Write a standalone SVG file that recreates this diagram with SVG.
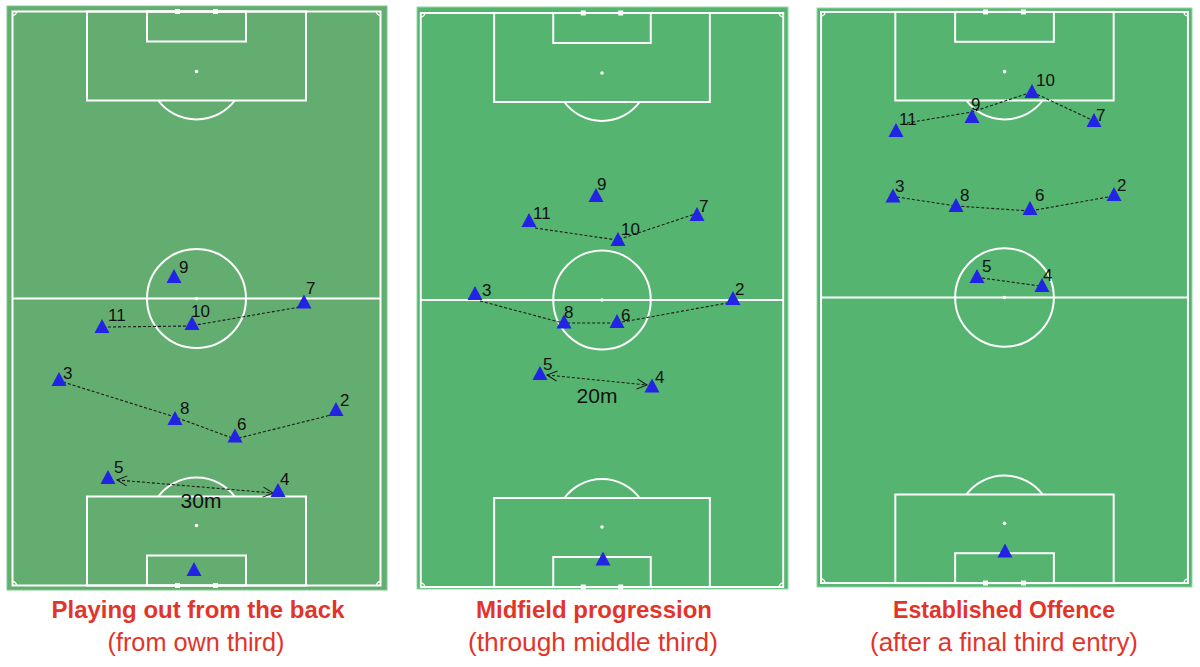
<svg xmlns="http://www.w3.org/2000/svg" xmlns:xlink="http://www.w3.org/1999/xlink" width="1200" height="667" viewBox="0 0 1200 667">
<style>
.ln{fill:none;stroke:#ffffff;stroke-width:2}
.sp{fill:#ffffff}
.p1{fill:#64ad70;stroke:#7fc98d;stroke-width:1}
.p2{fill:#54b470;stroke:#8fd9a6;stroke-width:1}
.pl{fill:#2323e6}
.num{font-family:"Liberation Sans",Arial,sans-serif;font-size:17px;fill:#111111}
.dist{font-family:"Liberation Sans",Arial,sans-serif;font-size:21px;fill:#111111}
.dash{fill:none;stroke:#1a1a1a;stroke-width:1.1;stroke-dasharray:3 2}
.t1{font-family:"Liberation Sans",Arial,sans-serif;font-size:24px;font-weight:bold;fill:#e3342a;text-anchor:middle}
.t2{font-family:"Liberation Sans",Arial,sans-serif;font-size:25px;fill:#e3342a;text-anchor:middle}
</style>
<defs>
<marker id="ah" viewBox="-11 -6 12 12" markerWidth="12" markerHeight="12" refX="0" refY="0" orient="auto-start-reverse" markerUnits="userSpaceOnUse">
<path d="M-10,-5 L0,0 L-10,5" fill="none" stroke="#1a1a1a" stroke-width="1"/>
</marker>
<path id="tri" d="M0,-7 L7.5,7 L-7.5,7 Z"/>
<g id="pitchLines">
<rect class="ln" x="-184" y="-287" width="368" height="574"/>
<line class="ln" x1="-184" y1="0" x2="184" y2="0"/>
<circle class="ln" cx="0" cy="0" r="49.5"/>
<circle class="sp" cx="0" cy="0" r="1.8"/>
<rect class="ln" x="-109.5" y="-287" width="219" height="89"/>
<rect class="ln" x="-49.5" y="-287" width="99" height="30"/>
<circle class="sp" cx="0" cy="-227" r="1.8"/>
<path class="ln" d="M-38.25,-198 A48,48 0 0,0 38.25,-198"/>
<rect class="ln" x="-109.5" y="198" width="219" height="89"/>
<rect class="ln" x="-49.5" y="257" width="99" height="30"/>
<circle class="sp" cx="0" cy="227" r="1.8"/>
<path class="ln" d="M-38.25,198 A48,48 0 0,1 38.25,198"/>
<rect class="sp" x="-21.5" y="-289.5" width="5" height="5"/>
<rect class="sp" x="16.5" y="-289.5" width="5" height="5"/>
<rect class="sp" x="-21.5" y="284.5" width="5" height="5"/>
<rect class="sp" x="16.5" y="284.5" width="5" height="5"/>
<path class="ln" style="stroke-width:1.5" d="M-184,-283 A4,4 0 0,0 -180,-287 M180,-287 A4,4 0 0,0 184,-283 M-180,287 A4,4 0 0,0 -184,283 M184,283 A4,4 0 0,0 180,287"/>
</g>
</defs>

<g id="pitch-1">
<rect class="p1" x="7" y="6" width="380" height="584"/>
<use xlink:href="#pitchLines" href="#pitchLines" transform="translate(196.5,298.5)"/>
</g>
<g id="pitch-2">
<rect class="p2" x="417" y="7" width="371" height="582"/>
<use xlink:href="#pitchLines" href="#pitchLines" transform="translate(602,300) scale(0.985,1)"/>
</g>
<g id="pitch-3">
<rect class="p2" x="817" y="8" width="375" height="579"/>
<use xlink:href="#pitchLines" href="#pitchLines" transform="translate(1004.5,297.5) scale(0.997,0.995)"/>
</g>

<g id="connectors">
<polyline class="dash" points="108,327 190,326 300,307"/>
<polyline class="dash" points="63,382 175,417 235,439 335,414"/>
<line class="dash" x1="117" y1="480" x2="273" y2="493" marker-start="url(#ah)" marker-end="url(#ah)"/>
<polyline class="dash" points="535,228 617,240 695,214"/>
<polyline class="dash" points="480,301 563,323 617,323 727,303"/>
<line class="dash" x1="547" y1="375" x2="647" y2="385" marker-start="url(#ah)" marker-end="url(#ah)"/>
<polyline class="dash" points="907,123 972,112 1032,92 1090,119"/>
<polyline class="dash" points="897,197 956,206 1030,211 1108,197"/>
<line class="dash" x1="982" y1="278" x2="1040" y2="286"/>
</g>

<g id="p1-9"><use class="pl" href="#tri" xlink:href="#tri" x="174" y="276"/><text class="num" x="179" y="273">9</text></g>
<g id="p1-7"><use class="pl" href="#tri" xlink:href="#tri" x="304" y="301.5"/><text class="num" x="306" y="294">7</text></g>
<g id="p1-11"><use class="pl" href="#tri" xlink:href="#tri" x="102" y="326"/><text class="num" x="108" y="321">11</text></g>
<g id="p1-10"><use class="pl" href="#tri" xlink:href="#tri" x="192" y="323"/><text class="num" x="191" y="317">10</text></g>
<g id="p1-3"><use class="pl" href="#tri" xlink:href="#tri" x="59" y="379"/><text class="num" x="63" y="379">3</text></g>
<g id="p1-8"><use class="pl" href="#tri" xlink:href="#tri" x="175" y="418"/><text class="num" x="180" y="414">8</text></g>
<g id="p1-6"><use class="pl" href="#tri" xlink:href="#tri" x="235" y="435.5"/><text class="num" x="237" y="430">6</text></g>
<g id="p1-2"><use class="pl" href="#tri" xlink:href="#tri" x="336" y="409"/><text class="num" x="340" y="406">2</text></g>
<g id="p1-5"><use class="pl" href="#tri" xlink:href="#tri" x="108" y="477"/><text class="num" x="114" y="473">5</text></g>
<g id="p1-4"><use class="pl" href="#tri" xlink:href="#tri" x="278" y="490"/><text class="num" x="280" y="485">4</text></g>
<g id="p1-1"><use class="pl" href="#tri" xlink:href="#tri" x="194" y="569"/></g>
<text class="dist" x="201" y="508" text-anchor="middle">30m</text>

<g id="p2-9"><use class="pl" href="#tri" xlink:href="#tri" x="596" y="195"/><text class="num" x="597" y="190">9</text></g>
<g id="p2-11"><use class="pl" href="#tri" xlink:href="#tri" x="529" y="220"/><text class="num" x="533" y="219">11</text></g>
<g id="p2-10"><use class="pl" href="#tri" xlink:href="#tri" x="618" y="239"/><text class="num" x="621" y="235">10</text></g>
<g id="p2-7"><use class="pl" href="#tri" xlink:href="#tri" x="697" y="214"/><text class="num" x="699" y="212">7</text></g>
<g id="p2-3"><use class="pl" href="#tri" xlink:href="#tri" x="475" y="293"/><text class="num" x="482" y="296">3</text></g>
<g id="p2-8"><use class="pl" href="#tri" xlink:href="#tri" x="564" y="321.5"/><text class="num" x="564" y="318">8</text></g>
<g id="p2-6"><use class="pl" href="#tri" xlink:href="#tri" x="617" y="321"/><text class="num" x="621" y="321">6</text></g>
<g id="p2-2"><use class="pl" href="#tri" xlink:href="#tri" x="733" y="298"/><text class="num" x="735" y="295">2</text></g>
<g id="p2-5"><use class="pl" href="#tri" xlink:href="#tri" x="540" y="373"/><text class="num" x="543" y="370">5</text></g>
<g id="p2-4"><use class="pl" href="#tri" xlink:href="#tri" x="652" y="385.5"/><text class="num" x="655" y="383">4</text></g>
<g id="p2-1"><use class="pl" href="#tri" xlink:href="#tri" x="603" y="558.5"/></g>
<text class="dist" x="597" y="403" text-anchor="middle">20m</text>

<g id="p3-10"><use class="pl" href="#tri" xlink:href="#tri" x="1032" y="91"/><text class="num" x="1036" y="86">10</text></g>
<g id="p3-9"><use class="pl" href="#tri" xlink:href="#tri" x="972" y="116"/><text class="num" x="971" y="110">9</text></g>
<g id="p3-11"><use class="pl" href="#tri" xlink:href="#tri" x="896" y="130"/><text class="num" x="899" y="125">11</text></g>
<g id="p3-7"><use class="pl" href="#tri" xlink:href="#tri" x="1094" y="120"/><text class="num" x="1096" y="121">7</text></g>
<g id="p3-3"><use class="pl" href="#tri" xlink:href="#tri" x="893" y="195.5"/><text class="num" x="895" y="192">3</text></g>
<g id="p3-8"><use class="pl" href="#tri" xlink:href="#tri" x="956" y="205"/><text class="num" x="960" y="201">8</text></g>
<g id="p3-6"><use class="pl" href="#tri" xlink:href="#tri" x="1030" y="208"/><text class="num" x="1035" y="201">6</text></g>
<g id="p3-2"><use class="pl" href="#tri" xlink:href="#tri" x="1114" y="194"/><text class="num" x="1117" y="191">2</text></g>
<g id="p3-5"><use class="pl" href="#tri" xlink:href="#tri" x="977" y="276"/><text class="num" x="982" y="272">5</text></g>
<g id="p3-4"><use class="pl" href="#tri" xlink:href="#tri" x="1042" y="285"/><text class="num" x="1043" y="281">4</text></g>
<g id="p3-1"><use class="pl" href="#tri" xlink:href="#tri" x="1005" y="550.5"/></g>

<g id="captions">
<text class="t1" x="198" y="618" textLength="293" lengthAdjust="spacingAndGlyphs">Playing out from the back</text>
<text class="t2" x="196" y="651" textLength="177" lengthAdjust="spacingAndGlyphs">(from own third)</text>
<text class="t1" x="594" y="618" textLength="236" lengthAdjust="spacingAndGlyphs">Midfield progression</text>
<text class="t2" x="593" y="651" textLength="250" lengthAdjust="spacingAndGlyphs">(through middle third)</text>
<text class="t1" x="1004" y="618" textLength="222" lengthAdjust="spacingAndGlyphs">Established Offence</text>
<text class="t2" x="1004" y="651" textLength="268" lengthAdjust="spacingAndGlyphs">(after a final third entry)</text>
</g>
</svg>
